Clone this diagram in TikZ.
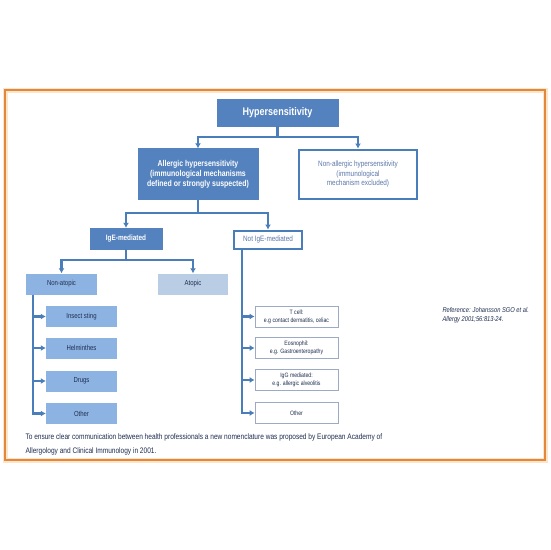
\documentclass[tikz,border=0pt]{standalone}
\usepackage{fontspec}
\setmainfont[FakeStretch=0.82]{Liberation Sans}
\usetikzlibrary{arrows.meta}
\definecolor{boxblue}{HTML}{5482BE}
\definecolor{lineblue}{HTML}{4A7EBB}
\definecolor{midblue}{HTML}{8DB3E2}
\definecolor{paleblue}{HTML}{B9CDE5}
\definecolor{greyblue}{HTML}{9DAAC4}
\definecolor{navytext}{HTML}{1F2D4F}
\definecolor{softtext}{HTML}{5B77A8}
\definecolor{frameorange}{HTML}{E3883A}
\definecolor{frameglow}{HTML}{FCE6CB}
\begin{document}
\begin{tikzpicture}[x=1pt,y=-1pt]
  \tikzset{>={Latex[length=5pt,width=6pt]}}
  \tikzset{
    darkbox/.style={draw=boxblue,fill=boxblue,text=white,align=center,inner sep=0pt,font=\bfseries\fontsize{8.5}{10}\selectfont},
    openbox/.style={draw=lineblue,line width=2pt,fill=white,text=softtext,align=center,inner sep=0pt,font=\fontsize{7.8}{9.5}\selectfont},
    lightbox/.style={fill=#1,text=navytext,align=center,inner sep=0pt,minimum width=71pt,minimum height=21pt,font=\fontsize{7.3}{8}\selectfont},
    cellbox/.style={draw=greyblue,line width=0.7pt,fill=white,text=navytext,align=center,inner sep=0pt,minimum width=83pt,minimum height=21pt,font=\fontsize{6.3}{7.8}\selectfont},
    conn/.style={draw=lineblue,line width=2.2pt}
  }
  \useasboundingbox (0,0) rectangle (550,550);
  \fill[white] (0,0) rectangle (550,550);

  \draw[frameglow,line width=5pt] (5,90) rectangle (545,460);
  \draw[frameorange,line width=1.8pt] (5,90) rectangle (545,460);

  \node[darkbox,minimum width=121pt,minimum height=27pt,font=\bfseries\fontsize{11}{13}\selectfont] (hyp) at (277.5,112.5) {Hypersensitivity};
  \node[darkbox,minimum width=120pt,minimum height=51pt] (allergic) at (198,174) {Allergic hypersensitivity\\(immunological mechanisms\\defined or strongly suspected)};
  \node[openbox,minimum width=118pt,minimum height=49pt] (nonallergic) at (358,174) {Non-allergic hypersensitivity\\(immunological\\mechanism excluded)};

  \draw[conn,->] (hyp.south) -- ++(0,11) -| (allergic.north);
  \draw[conn,->] (hyp.south) -- ++(0,11) -| (nonallergic.north);

  \node[darkbox,minimum width=72pt,minimum height=21pt,font=\bfseries\fontsize{7.8}{9}\selectfont] (ige) at (126,238.5) {IgE-mediated};
  \node[openbox,minimum width=68pt,minimum height=18pt] (notige) at (268,239.5) {Not IgE-mediated};

  \draw[conn,->] (allergic.south) -- ++(0,13) -| (ige.north);
  \draw[conn,->] (allergic.south) -- ++(0,13) -| (notige.north);

  \node[lightbox=midblue] (nonatopic) at (61.5,284) {Non-atopic};
  \node[lightbox=paleblue,minimum width=70pt] (atopic) at (193,284) {Atopic};

  \draw[conn,->] (ige.south) -- ++(0,10.5) -| (nonatopic.north);
  \draw[conn,->] (ige.south) -- ++(0,10.5) -| (atopic.north);

  \node[lightbox=midblue] (insect) at (81.5,316.5) {Insect sting};
  \node[lightbox=midblue] (helminth) at (81.5,348) {Helminthes};
  \node[lightbox=midblue] (drugs) at (81.5,381) {Drugs};
  \node[lightbox=midblue] (otherige) at (81.5,413.5) {Other};

  \foreach \n in {insect,helminth,drugs,otherige}
    \draw[conn,->] ([xshift=7pt]nonatopic.south west) |- (\n.west);

  \node[cellbox] (tcell) at (296.5,316.5) {T cell:\\e.g contact dermatitis, celiac};
  \node[cellbox] (eosin) at (296.5,348) {Eosnophil:\\e.g. Gastroenteropathy};
  \node[cellbox] (iggmed) at (296.5,380) {IgG mediated:\\e.g. allergic alveolitis};
  \node[cellbox] (othernot) at (296.5,413) {Other};

  \foreach \n in {tcell,eosin,iggmed,othernot}
    \draw[conn,->] ([xshift=9pt]notige.south west) |- (\n.west);

  \node[anchor=north west,align=left,text=navytext,font=\itshape\fontsize{7}{8.5}\selectfont] (ref) at (439,304) {Reference: Johansson SGO et al.\\Allergy 2001;56:813-24.};
  \node[anchor=north west,align=left,text=navytext,font=\fontsize{8}{14}\selectfont] (note) at (22,430) {To ensure clear communication between health professionals a new nomenclature was proposed by European Academy of\\Allergology and Clinical Immunology in 2001.};

\end{tikzpicture}
\end{document}
